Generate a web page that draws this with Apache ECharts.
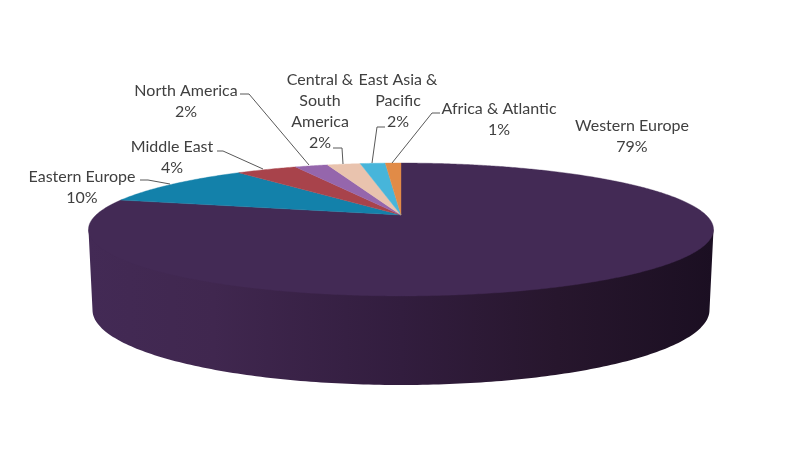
<!DOCTYPE html>
<html>
<head>
<meta charset="utf-8">
<style>html,body{margin:0;padding:0;background:#fff}#main{width:800px;height:453px}</style>
<script src="https://cdn.jsdelivr.net/npm/echarts@6/dist/echarts.min.js"></script>
</head>
<body>
<div id="main"></div>
<script>
// clockwise from 12 o'clock
var categories = ['Western Europe', 'Eastern Europe', 'Middle East', 'North America', 'Central &\nSouth\nAmerica', 'East Asia &\nPacific', 'Africa & Atlantic'];
var values = [79.0, 10.3, 3.9, 2.1, 2.1, 1.6, 1.0];
var colors = ['#432a55', '#1381aa', '#a8434b', '#9566ac', '#e9c3ae', '#47b5da', '#e18b47'];

// label centre + top of text, then leader line points
var labelPos = [[632, 115], [82, 166], [172, 136], [186, 80], [320, 69], [398, 69], [499, 98]];
var leaders = [
	null,
	[[140, 180], [148, 180], [170, 184]],
	[[217, 151], [223, 151], [263, 169]],
	[[240, 94], [249, 94], [309, 165]],
	[[333, 148], [342, 148], [343, 164]],
	[[385, 127], [377, 127], [372, 163]],
	[[440, 113], [432, 113], [392, 163]]
];

var total = values.reduce(function (a, b) { return a + b; }, 0);

// top face: circle seen in perspective, so the centre sits above the middle of the ellipse
var cx = 401, cy = 215, A = 305, B = 63.3, K = -0.218;
function topPoint(deg) {
	var r = deg * Math.PI / 180;
	var u = Math.sin(r), v = -Math.cos(r), w = 1 + K * v;
	return [cx + A * u / w, cy + B * v / w];
}
function arc(from, to) {
	var pts = [], n = Math.max(2, Math.ceil(Math.abs(to - from) * 2));
	for (var i = 0; i <= n; i++) {
		pts.push(topPoint(from + (to - from) * i / n));
	}
	return pts;
}

// goes behind the top face so no light seam shows along the front edge
function wallShape() {
	var pts = arc(0, 360), l = 0, r = 0, i;
	for (i = 0; i < pts.length; i++) {
		if (pts[i][0] < pts[l][0]) l = i;
		if (pts[i][0] > pts[r][0]) r = i;
	}
	var out = [pts[r], pts[l]];
	// bottom rim, left to right along the front
	for (i = 0; i <= 180; i++) {
		var t = Math.PI - i * Math.PI / 180;
		out.push([401 + 308.5 * Math.cos(t), 310 + 75 * Math.sin(t)]);
	}
	return out;
}

var wallFill = new echarts.graphic.LinearGradient(0, 0, 1, 0, [
	{offset: 0, color: '#432a55'},
	{offset: 0.2, color: '#40274f'},
	{offset: 0.5, color: '#321d3e'},
	{offset: 0.75, color: '#27162d'},
	{offset: 1, color: '#1b0f22'}
]);

function renderSlice(params, api) {
	var idx = params.dataIndex;
	var before = 0;
	for (var i = 0; i < idx; i++) before += values[i];
	var start = before / total * 360;
	var end = (before + api.value(0)) / total * 360;
	var kids = [];

	if (idx === 0) {
		kids.push({type: 'polygon', shape: {points: wallShape()}, style: {fill: wallFill}, z2: 0});
	}
	kids.push({
		type: 'polygon',
		shape: {points: [[cx, cy]].concat(arc(start, end))},
		style: {fill: colors[idx], stroke: colors[idx], lineWidth: 0.4},
		z2: 1
	});
	if (leaders[idx]) {
		kids.push({
			type: 'polyline',
			shape: {points: leaders[idx]},
			style: {fill: null, stroke: '#595959', lineWidth: 1},
			z2: 2
		});
	}
	kids.push({
		type: 'text',
		x: labelPos[idx][0],
		y: labelPos[idx][1],
		style: {
			text: categories[idx] + '\n' + Math.round(values[idx]) + '%',
			align: 'center',
			verticalAlign: 'top',
			fontFamily: 'Lato',
			fontSize: 16,
			lineHeight: 21,
			fill: '#404040'
		},
		z2: 3
	});
	return {type: 'group', children: kids};
}

var myChart = echarts.init(document.getElementById('main'));
myChart.setOption({
	backgroundColor: '#fff',
	animation: false,
	series: [{
		type: 'custom',
		coordinateSystem: 'none',
		clip: false,
		data: values,
		renderItem: renderSlice
	}]
});
</script>
</body>
</html>
